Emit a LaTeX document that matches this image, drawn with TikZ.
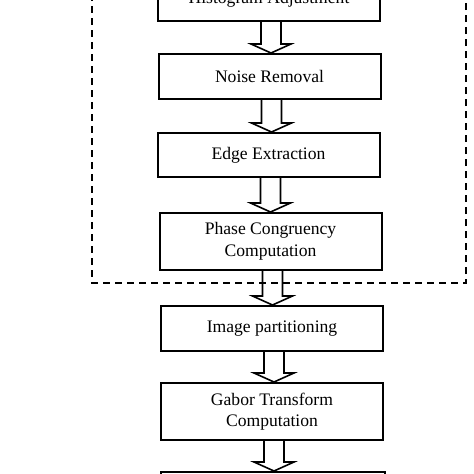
\documentclass[tikz,border=0pt]{standalone}
\usepackage{fontspec}
\setmainfont{Liberation Serif}
\usetikzlibrary{calc}

\begin{document}
\begin{tikzpicture}[x=1pt,y=-1pt,
  stepbox/.style={draw,line width=2pt,minimum width=222pt,minimum height=45pt,inner sep=0pt,align=center,font=\fontsize{17.6}{21.5}\selectfont},
  tallbox/.style={stepbox,minimum height=57pt},
  arrowline/.style={line width=1.6pt,line join=miter}]
\useasboundingbox (0,0) rectangle (474,474);
\clip (0,0) rectangle (474,474);
\draw[line width=1.8pt,dash pattern=on 7pt off 5pt] (92,-30) -- (92,283) -- (466,283) -- (466,-30);
\node[stepbox,minimum height=43pt] (hist) at (269,-1) {Histogram Adjustment};
\node[stepbox] (noise) at (269.5,76.5) {Noise Removal};
\node[stepbox,minimum height=44pt] (edge) at (268.5,155) {Edge Extraction};
\node[tallbox] (phase) at (270.5,241.5) {Phase Congruency\\Computation};
\node[stepbox] (part) at (272,328.5) {Image partitioning};
\node[tallbox] (gabor) at (272,411.5) {Gabor Transform\\Computation};
\node[stepbox,minimum width=224pt] (next) at (273,494.5) {};
\foreach \a/\b in {hist/noise,noise/edge,edge/phase,phase/part,part/gabor,gabor/next}
  \draw[arrowline] let \p1=($(\a.south)+(2,0)$), \p2=(\b.north) in
    (\x1-10pt,\y1) -- (\x1-10pt,\y2+9pt) -- (\x1-20pt,\y2+9pt) -- (\x1,\y2)
    -- (\x1+20pt,\y2+9pt) -- (\x1+10pt,\y2+9pt) -- (\x1+10pt,\y1);
\end{tikzpicture}
\end{document}
